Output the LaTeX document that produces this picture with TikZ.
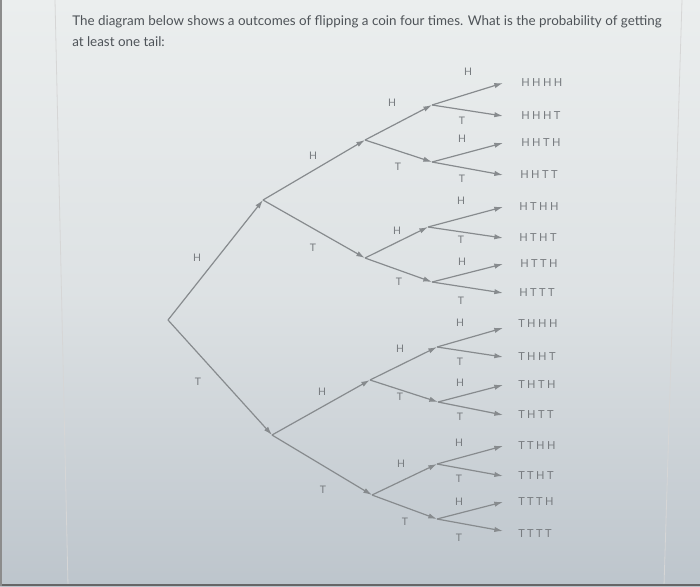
\documentclass[tikz,border=0pt]{standalone}
\usepackage{fontspec}
\setmainfont{Lato}
\usetikzlibrary{arrows.meta}
\definecolor{bgtop}{HTML}{EBEEEE}
\definecolor{bgbot}{HTML}{BDC5CC}
\definecolor{linecol}{HTML}{878B8E}
\definecolor{labcol}{HTML}{787C80}
\definecolor{titlecol}{HTML}{4E5358}
\begin{document}
\begin{tikzpicture}[x=0.75pt,y=-0.75pt,
  br/.style={draw=linecol, line width=0.9pt, -{Latex[length=6.5pt,width=4pt]}},
  lab/.style={text=labcol, font=\fontsize{7.8}{9}\selectfont, inner sep=0pt},
  outc/.style={text=labcol, font=\fontsize{8.3}{9}\selectfont\addfontfeature{LetterSpace=22}, inner sep=0pt, anchor=west},
  ttl/.style={text=titlecol, font=\fontsize{10.05}{12}\selectfont, inner sep=0pt, anchor=base west}]
\useasboundingbox (0,0) rectangle (700,586);
\shade[top color=bgtop, bottom color=bgbot, middle color=bgtop!70!bgbot] (0,0) rectangle (700,586);
\draw[draw=black!16, line width=0.6pt] (55,0) -- (68,586);
\draw[draw=black!16, line width=0.6pt] (682,0) -- (664,586);
\fill[black!60] (0,584) rectangle (700,586);
\fill[black!45] (0,0) rectangle (2,586);
% title
\node[ttl] (t1) at (72,25) {The diagram below shows a outcomes of flipping a coin four times. What is the probability of getting};
\node[ttl] (t2) at (72,46) {at least one tail:};
% tree nodes
\coordinate (r) at (168,320);
\coordinate (h) at (263,200);
\coordinate (t) at (272,435);
\coordinate (hh) at (365,140);
\coordinate (ht) at (365,258);
\coordinate (th) at (370,380);
\coordinate (tt) at (372,495);
\coordinate (hhh) at (432,105);
\coordinate (hht) at (432,162);
\coordinate (hth) at (428,227);
\coordinate (htt) at (432,282);
\coordinate (thh) at (437,347);
\coordinate (tht) at (438,402);
\coordinate (tth) at (437,464);
\coordinate (ttt) at (437,519);
\coordinate (hhhh) at (503,83);
\coordinate (hhht) at (503,116);
\coordinate (hhth) at (503,143);
\coordinate (hhtt) at (503,175);
\coordinate (hthh) at (503,207);
\coordinate (htht) at (503,238);
\coordinate (htth) at (503,264);
\coordinate (httt) at (503,293);
\coordinate (thhh) at (503,328);
\coordinate (thht) at (503,357);
\coordinate (thth) at (503,385);
\coordinate (thtt) at (503,415);
\coordinate (tthh) at (503,446);
\coordinate (ttht) at (503,476);
\coordinate (ttth) at (503,502);
\coordinate (tttt) at (503,531);
% branches
\draw[br] (r) -- (h);
\draw[br] (r) -- (t);
\draw[br] (h) -- (hh);
\draw[br] (h) -- (ht);
\draw[br] (t) -- (th);
\draw[br] (t) -- (tt);
\draw[br] (hh) -- (hhh);
\draw[br] (hh) -- (hht);
\draw[br] (ht) -- (hth);
\draw[br] (ht) -- (htt);
\draw[br] (th) -- (thh);
\draw[br] (th) -- (tht);
\draw[br] (tt) -- (tth);
\draw[br] (tt) -- (ttt);
\draw[br] (hhh) -- (hhhh);
\draw[br] (hhh) -- (hhht);
\draw[br] (hht) -- (hhth);
\draw[br] (hht) -- (hhtt);
\draw[br] (hth) -- (hthh);
\draw[br] (hth) -- (htht);
\draw[br] (htt) -- (htth);
\draw[br] (htt) -- (httt);
\draw[br] (thh) -- (thhh);
\draw[br] (thh) -- (thht);
\draw[br] (tht) -- (thth);
\draw[br] (tht) -- (thtt);
\draw[br] (tth) -- (tthh);
\draw[br] (tth) -- (ttht);
\draw[br] (ttt) -- (ttth);
\draw[br] (ttt) -- (tttt);
% branch labels level 1
\node[lab] (l1h) at (197,258) {H};
\node[lab] (l1t) at (198,382) {T};
% level 2
\node[lab] (l2a) at (313,156) {H};
\node[lab] (l2b) at (313,248) {T};
\node[lab] (l2c) at (322,392) {H};
\node[lab] (l2d) at (323,490) {T};
% level 3
\node[lab] (l3a) at (392,103) {H};
\node[lab] (l3b) at (398,167) {T};
\node[lab] (l3c) at (397,231) {H};
\node[lab] (l3d) at (399,282) {T};
\node[lab] (l3e) at (400,349) {H};
\node[lab] (l3f) at (400,397) {T};
\node[lab] (l3g) at (401,464) {H};
\node[lab] (l3h) at (405,522) {T};
% level 4
\node[lab] (l4a) at (468,72) {H};
\node[lab] (l4b) at (462,121) {T};
\node[lab] (l4c) at (462,139) {H};
\node[lab] (l4d) at (462,179) {T};
\node[lab] (l4e) at (461,201) {H};
\node[lab] (l4f) at (461,240) {T};
\node[lab] (l4g) at (462,262) {H};
\node[lab] (l4h) at (461,301) {T};
\node[lab] (l4i) at (460,323) {H};
\node[lab] (l4j) at (460,362) {T};
\node[lab] (l4k) at (460,383) {H};
\node[lab] (l4l) at (460,417) {T};
\node[lab] (l4m) at (459,443) {H};
\node[lab] (l4n) at (459,479) {T};
\node[lab] (l4o) at (459,502) {H};
\node[lab] (l4p) at (459,538) {T};
% outcomes
\node[outc] (o1) at (521,83) {HHHH};
\node[outc] (o2) at (521,116) {HHHT};
\node[outc] (o3) at (521,143) {HHTH};
\node[outc] (o4) at (520,175) {HHTT};
\node[outc] (o5) at (519,207) {HTHH};
\node[outc] (o6) at (519,238) {HTHT};
\node[outc] (o7) at (520,264) {HTTH};
\node[outc] (o8) at (519,293) {HTTT};
\node[outc] (o9) at (518,324) {THHH};
\node[outc] (o10) at (518,357) {THHT};
\node[outc] (o11) at (518,385) {THTH};
\node[outc] (o12) at (518,415) {THTT};
\node[outc] (o13) at (518,446) {TTHH};
\node[outc] (o14) at (518,476) {TTHT};
\node[outc] (o15) at (518,502) {TTTH};
\node[outc] (o16) at (518,534) {TTTT};
\end{tikzpicture}
\end{document}
